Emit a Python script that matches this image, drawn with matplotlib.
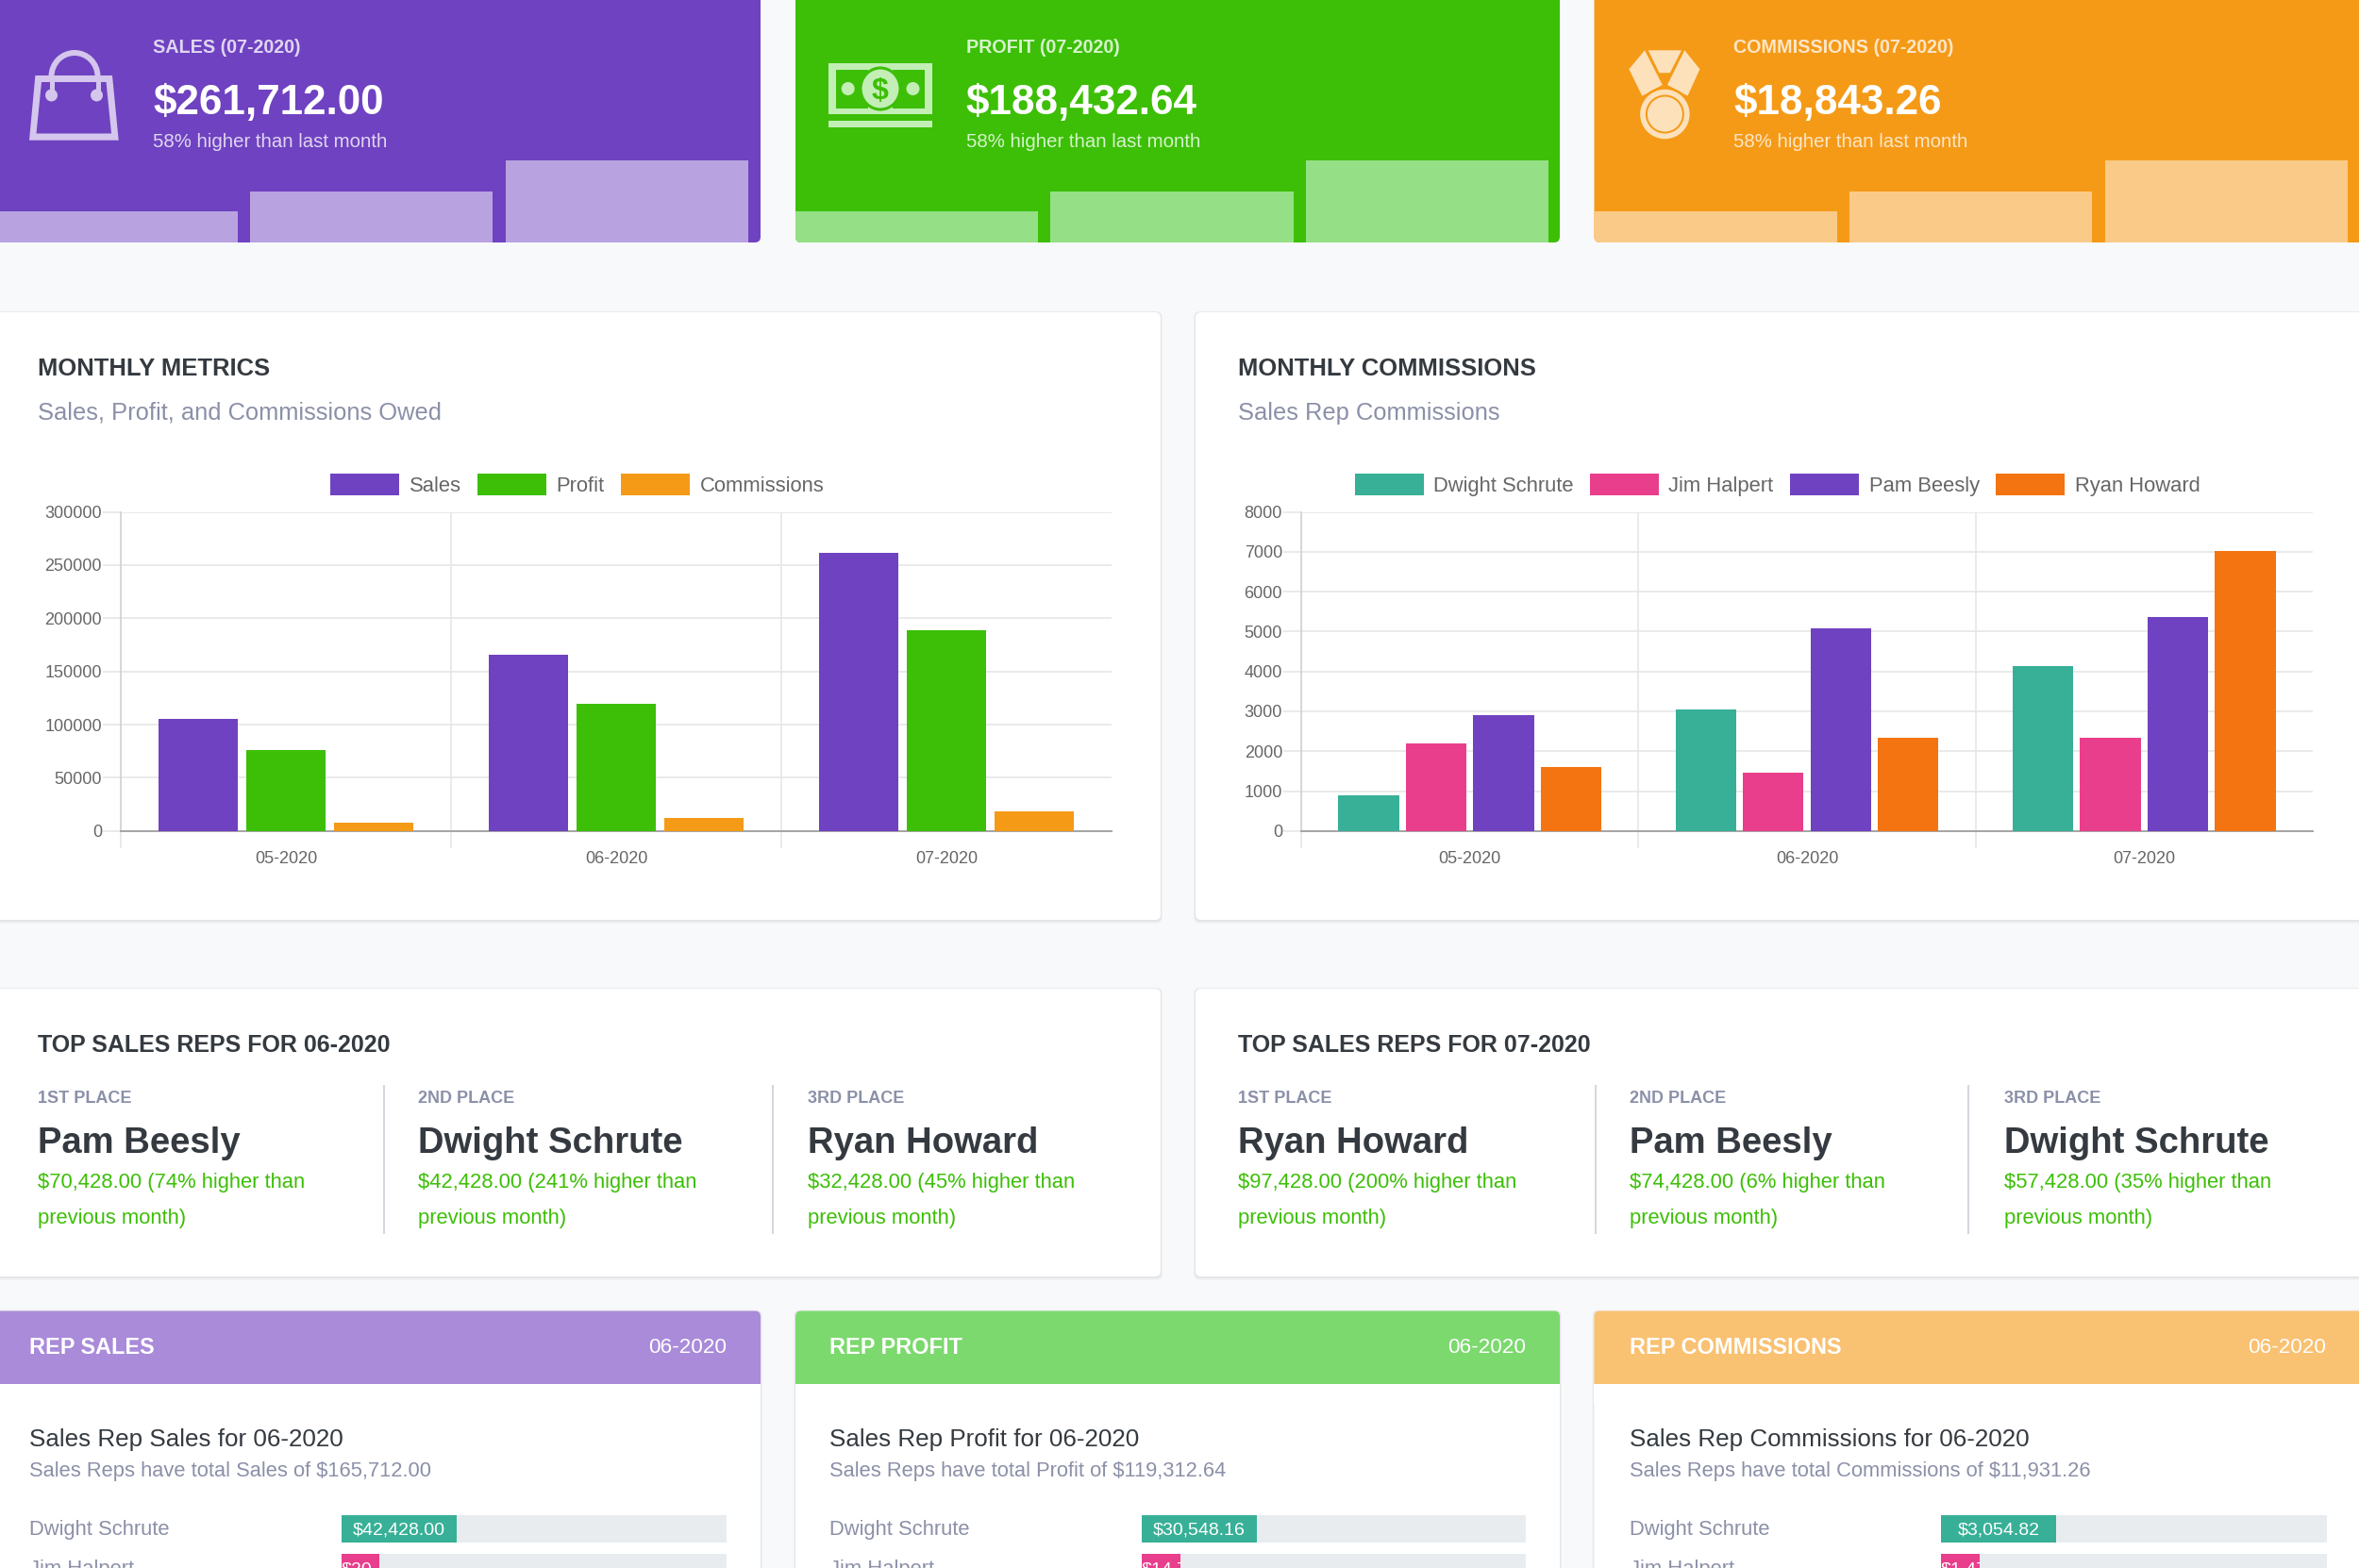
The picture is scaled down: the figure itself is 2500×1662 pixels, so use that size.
import matplotlib
matplotlib.use("Agg")
import matplotlib.pyplot as plt
import numpy as np
from matplotlib.patches import Rectangle, FancyBboxPatch, Polygon, Ellipse, Arc

plt.rcParams['font.family'] = ['Liberation Sans', 'DejaVu Sans']

W, H = 2500, 1662
DPI = 100

months = ['05-2020', '06-2020', '07-2020']
sales = [105602, 165712, 261712]
profit = [76033, 119312.64, 188432.64]
commissions = [7603, 11931.26, 18843.26]
metric_names = ['Sales', 'Profit', 'Commissions']

reps = ['Dwight Schrute', 'Jim Halpert', 'Pam Beesly', 'Ryan Howard']
dwight = [896, 3054.82, 4134.82]
jim = [2183, 1470.82, 2334.82]
pam = [2914, 5070.82, 5358.82]
ryan = [1610, 2334.82, 7014.82]

kpi_titles = ['SALES (07-2020)', 'PROFIT (07-2020)', 'COMMISSIONS (07-2020)']
kpi_values = ['$261,712.00', '$188,432.64', '$18,843.26']
kpi_note = '58% higher than last month'

left_ticks = [0, 50000, 100000, 150000, 200000, 250000, 300000]
right_ticks = [0, 1000, 2000, 3000, 4000, 5000, 6000, 7000, 8000]

top_titles = ['TOP SALES REPS FOR 06-2020', 'TOP SALES REPS FOR 07-2020']
places = ['1ST PLACE', '2ND PLACE', '3RD PLACE']
top_june = [('Pam Beesly', '$70,428.00 (74% higher than'),
            ('Dwight Schrute', '$42,428.00 (241% higher than'),
            ('Ryan Howard', '$32,428.00 (45% higher than')]
top_july = [('Ryan Howard', '$97,428.00 (200% higher than'),
            ('Pam Beesly', '$74,428.00 (6% higher than'),
            ('Dwight Schrute', '$57,428.00 (35% higher than')]

panel_heads = ['REP SALES', 'REP PROFIT', 'REP COMMISSIONS']
panel_titles = ['Sales Rep Sales for 06-2020', 'Sales Rep Profit for 06-2020', 'Sales Rep Commissions for 06-2020']
panel_subs = ['Sales Reps have total Sales of $165,712.00',
              'Sales Reps have total Profit of $119,312.64',
              'Sales Reps have total Commissions of $11,931.26']
dwight_labels = ['$42,428.00', '$30,548.16', '$3,054.82']
jim_labels = ['$20,428.00', '$14,708.16', '$1,470.82']
progress_pct = [30, 10]

PURPLE, GREEN, ORANGE = '#6f42c1', '#3cbf06', '#f59a17'
TEAL, PINK, DORANGE = '#38b097', '#e83e8c', '#f37411'
MINI = ['#b8a3e0', '#95e086', '#facb88']
HEAD = ['#a98bd9', '#7cd96e', '#f9c172']
ICON = ['#d4c6ec', '#c3eeb6', '#fde1bb']
NOTE = ['#dfd5f2', '#d5f3cc', '#fde6c8']
DARK, MUTED, TICK = '#343a40', '#8b90a8', '#666666'
BG = '#f8f9fa'


def px(s):
    return s * 72 / DPI


def axes_px(x0, y0, x1, y1, z=2):
    a = fig.add_axes([x0 / W, 1 - y1 / H, (x1 - x0) / W, (y1 - y0) / H], zorder=z)
    a.patch.set_alpha(0)
    return a


fig = plt.figure(figsize=(W / DPI, H / DPI), dpi=DPI, facecolor=BG)
ov = fig.add_axes([0, 0, 1, 1], zorder=0)
ov.set_xlim(0, W)
ov.set_ylim(H, 0)
ov.axis('off')


def T(x, y, s, size, color=DARK, weight='normal', ha='left', z=5):
    return ov.text(x, y, s, fontsize=px(size), color=color, fontweight=weight,
                   ha=ha, va='center_baseline', zorder=z)


def card(x0, y0, x1, y1, color='white', z=1, shadow=True):
    if shadow:
        ov.add_patch(FancyBboxPatch((x0 - 2, y0 - 1), x1 - x0 + 4, y1 - y0 + 5,
                                    boxstyle='round,pad=0,rounding_size=7', fc='#f0f1f3', ec='none', zorder=z - 0.6))
        ov.add_patch(FancyBboxPatch((x0 - 1, y0 - 0.5), x1 - x0 + 2, y1 - y0 + 2.5,
                                    boxstyle='round,pad=0,rounding_size=6', fc='#e4e5e8', ec='none', zorder=z - 0.5))
    p = FancyBboxPatch((x0, y0), x1 - x0, y1 - y0, boxstyle='round,pad=0,rounding_size=6',
                       fc=color, ec='none', zorder=z)
    ov.add_patch(p)
    return p


# ---------- KPI cards ----------
kpi_x = [(0 - 20, 806), (843, 1653), (1689.5, 2520)]
kpi_col = [PURPLE, GREEN, ORANGE]
kpi_text_x = [162.3, 1023.5, 1837.3]
mini_span = [(-12.4, 799.7), (836, 1648), (1682.7, 2494.8)]
mini_series = [sales, profit, commissions]
for i in range(3):
    p = card(kpi_x[i][0], -20, kpi_x[i][1], 257, kpi_col[i], shadow=False)
    T(kpi_text_x[i], 48.8, kpi_titles[i], 19.8, NOTE[i], 'bold')
    T(kpi_text_x[i], 105, kpi_values[i], 44, 'white', 'bold')
    T(kpi_text_x[i], 148.7, kpi_note, 20.4, NOTE[i])
    a = axes_px(mini_span[i][0], 170, mini_span[i][1], 257)
    a.set_xlim(-0.5, 2.5)
    a.set_ylim(mini_series[i][2] * 0.03, mini_series[i][2])
    a.axis('off')
    bars = a.bar(range(3), mini_series[i], width=0.95, color=MINI[i], linewidth=0)
    for b in bars:
        b.set_clip_path(p)

# bag icon
c = ICON[0]
ov.add_patch(Polygon([(37.4, 80), (119, 80), (125.7, 148.7), (31, 148.7)], closed=True, fc=c, ec='none', zorder=3))
ov.add_patch(Polygon([(44, 87), (112.5, 87), (118, 141.5), (38.5, 141.5)], closed=True, fc=PURPLE, ec='none', zorder=3.1))
ov.add_patch(Arc((79, 81), 49, 50, theta1=180, theta2=360, ec=c, lw=px(6), zorder=3.2))
ov.plot([54.5, 54.5], [81, 100], color=c, lw=px(5), zorder=3.2, solid_capstyle='butt')
ov.plot([103.5, 103.5], [81, 100], color=c, lw=px(5), zorder=3.2, solid_capstyle='butt')
ov.add_patch(Ellipse((54.5, 101), 13, 13, fc=c, ec='none', zorder=3.2))
ov.add_patch(Ellipse((102.5, 101), 13, 13, fc=c, ec='none', zorder=3.2))

# money icon
c = ICON[1]
ov.add_patch(Rectangle((878.3, 66.7), 109.7, 54.6, fc=c, ec='none', zorder=3))
ov.add_patch(Rectangle((878.3, 128), 109.7, 7, fc=c, ec='none', zorder=3))
ov.add_patch(Rectangle((886, 73.5), 34, 41.5, fc=GREEN, ec='none', zorder=3.1))
ov.add_patch(Rectangle((946, 73.5), 34, 41.5, fc=GREEN, ec='none', zorder=3.1))
ov.add_patch(Ellipse((933, 94), 42, 44, fc=c, ec=GREEN, lw=px(3), zorder=3.2))
ov.add_patch(Ellipse((898.7, 94), 14, 14, fc=c, ec='none', zorder=3.2))
ov.add_patch(Ellipse((967.5, 94), 14, 14, fc=c, ec='none', zorder=3.2))
T(933, 94, '$', 32, GREEN, 'bold', ha='center', z=3.3)

# medal icon
c = ICON[2]
ov.add_patch(Polygon([(1746.8, 53.3), (1782, 53.3), (1769.8, 77.3), (1758.5, 77.3)], closed=True, fc=c, ec='none', zorder=3))
ov.add_patch(Polygon([(1743, 53.3), (1726.4, 73.3), (1740.3, 101.7), (1761.8, 90)], closed=True, fc=c, ec='none', zorder=3))
ov.add_patch(Polygon([(1785.3, 53.3), (1801.4, 73.3), (1788.5, 101.7), (1767, 90)], closed=True, fc=c, ec='none', zorder=3))
ov.add_patch(Ellipse((1764.4, 121), 55, 55, fc=c, ec=ORANGE, lw=px(2.5), zorder=3.1))
ov.add_patch(Ellipse((1764.4, 121), 39, 39, fc=c, ec=ORANGE, lw=px(2), zorder=3.2))

# ---------- chart cards ----------
chart_cards = [(-20, 1230), (1267, 2520)]
chart_titles = ['MONTHLY METRICS', 'MONTHLY COMMISSIONS']
chart_subs = ['Sales, Profit, and Commissions Owed', 'Sales Rep Commissions']
title_x = [40, 1311.8]
for i in range(2):
    card(chart_cards[i][0], 331, chart_cards[i][1], 975)
    T(title_x[i], 388, chart_titles[i], 25.6, DARK, 'bold')
    T(title_x[i], 435.5, chart_subs[i], 25.5, MUTED)


def grouped(x0, x1, series, names, colors, yticks, ymax, legend_cx):
    a = axes_px(x0, 542.5, x1, 880.8)
    n = len(series)
    step = 0.8 / n
    for k in range(n):
        a.bar(np.arange(3) - 0.4 + step * (k + 0.5), series[k], width=step * 0.9,
              color=colors[k], label=names[k], linewidth=0, zorder=3)
    a.set_xlim(-0.5, 2.5)
    a.set_ylim(0, ymax)
    a.set_yticks(yticks)
    a.set_xticks(range(3))
    a.set_xticklabels(months)
    a.set_xticks([-0.5, 0.5, 1.5], minor=True)
    a.grid(True, axis='y', color='#e6e6e6', lw=px(1.6), zorder=1)
    a.grid(True, axis='x', which='minor', color='#e6e6e6', lw=px(1.6), zorder=1)
    a.set_axisbelow(True)
    a.tick_params(axis='y', length=px(19), width=px(1.6), color='#e6e6e6', pad=px(1),
                  labelsize=px(18), labelcolor=TICK)
    a.tick_params(axis='x', which='major', length=0, pad=px(21), labelsize=px(18), labelcolor=TICK)
    a.tick_params(axis='x', which='minor', length=px(18), width=px(1.6), color='#e6e6e6')
    for s in ('top', 'right'):
        a.spines[s].set_visible(False)
    a.spines['left'].set_color('#d0d0d0')
    a.spines['left'].set_linewidth(px(1.6))
    a.spines['bottom'].set_color('#a6a6a6')
    a.spines['bottom'].set_linewidth(px(2))
    a.spines['bottom'].set_zorder(2.5)
    a.legend(ncol=n, loc='lower center', bbox_to_anchor=(legend_cx, 526), bbox_transform=ov.transData,
             frameon=False, fontsize=px(22), labelcolor=TICK, handlelength=73 / 22, handleheight=1.2,
             handletextpad=0.47, columnspacing=0.8, borderpad=0, borderaxespad=0)
    return a


grouped(128, 1178, [sales, profit, commissions], metric_names, [PURPLE, GREEN, ORANGE], left_ticks, 300000, 611.7)
grouped(1379, 2451, [dwight, jim, pam, ryan], reps, [TEAL, PINK, PURPLE, DORANGE], right_ticks, 8000, 1883.5)

# ---------- top reps ----------
top_cards = [(-20, 1230), (1267, 2520)]
col_x = [[40, 443, 855.7], [1311.8, 1726.6, 2124.3]]
div_x = [[406.5, 818.5], [1691, 2086]]
top_data = [top_june, top_july]
for i in range(2):
    card(top_cards[i][0], 1048, top_cards[i][1], 1353)
    T(title_x[i], 1105.5, top_titles[i], 25, DARK, 'bold')
    for d in div_x[i]:
        ov.plot([d, d], [1150, 1308], color='#ced4da', lw=px(1.8), zorder=3, solid_capstyle='butt')
    for j in range(3):
        T(col_x[i][j], 1162.5, places[j], 18, MUTED, 'bold')
        T(col_x[i][j], 1208.5, top_data[i][j][0], 38.3, DARK, 'bold')
        T(col_x[i][j], 1250.7, top_data[i][j][1], 22, GREEN)
        T(col_x[i][j], 1288.7, 'previous month)', 22, GREEN)

# ---------- bottom panels ----------
pan_x = [(-20, 806), (843, 1653), (1689.4, 2520)]
pan_tx = [31, 878.6, 1727]
head_rx = [769.7, 1616.7, 2465.6]
track = [(361.5, 769.7), (1210, 1616.7), (2056.6, 2465.6)]
for i in range(3):
    card(pan_x[i][0], 1389.5, pan_x[i][1], 1700)
    card(pan_x[i][0], 1389.5, pan_x[i][1], 1480, HEAD[i], z=1.2, shadow=False)
    ov.add_patch(Rectangle((pan_x[i][0], 1466.5), pan_x[i][1] - pan_x[i][0], 20, fc='white', ec='none', zorder=1.3))
    T(pan_tx[i], 1425.7, panel_heads[i], 23.5, 'white', 'bold')
    T(head_rx[i], 1425.7, months[1], 22.5, 'white', ha='right')
    T(pan_tx[i], 1523, panel_titles[i], 26, DARK)
    T(pan_tx[i], 1557.5, panel_subs[i], 21.9, MUTED)
    T(pan_tx[i], 1619, reps[0], 22, MUTED)
    T(pan_tx[i], 1661, reps[1], 22, MUTED)
    a = axes_px(track[i][0], 1598, track[i][1], 1676)
    a.set_xlim(0, 100)
    a.set_ylim(1676, 1598)
    a.axis('off')
    a.barh([1620, 1661.6], [100, 100], height=29, color='#e9ecef', linewidth=0)
    bs = a.barh([1620, 1661.6], progress_pct, height=29, color=[TEAL, PINK], linewidth=0)
    a.text(progress_pct[0] / 2, 1620, dwight_labels[i], fontsize=px(19.5), color='white', ha='center', va='center_baseline')
    t = a.text(0, 1661.6, jim_labels[i], fontsize=px(19.5), color='white', ha='left', va='center_baseline')
    t.set_clip_on(True)
    t.set_clip_path(bs[1])

fig.savefig('out.png', dpi=DPI, facecolor=BG)
